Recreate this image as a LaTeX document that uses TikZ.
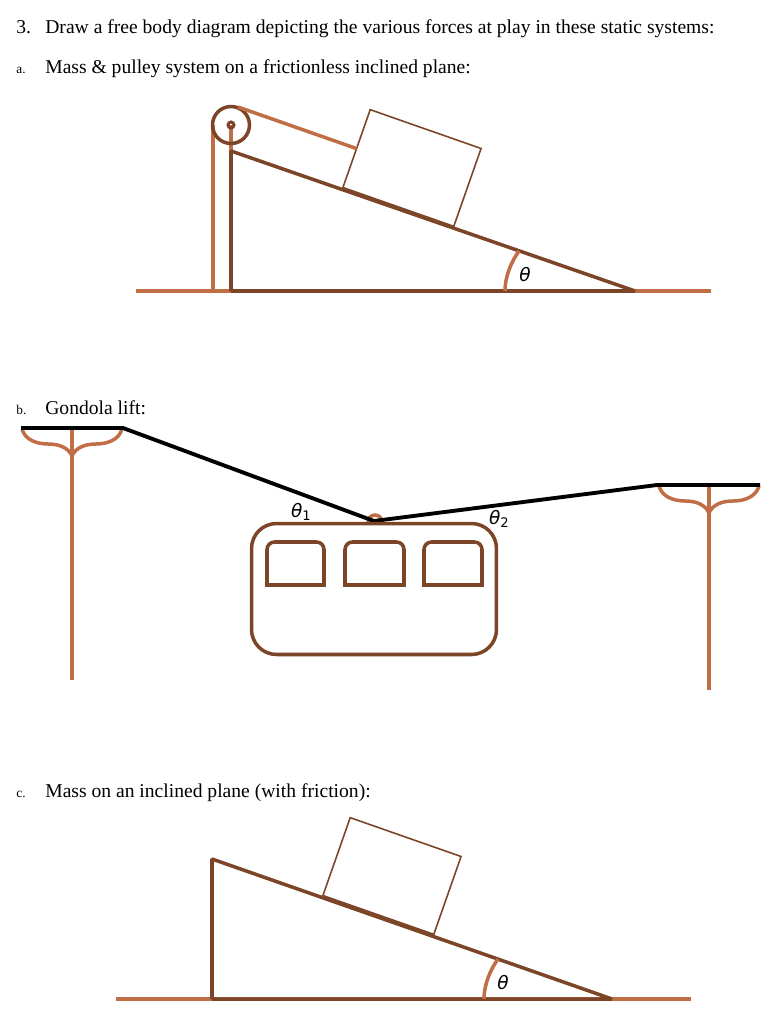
\documentclass[tikz,border=0pt]{standalone}
\usepackage{fontspec}
\setmainfont{Liberation Serif}
\newfontfamily\anglefont{DejaVu Sans}
\usetikzlibrary{positioning}
\definecolor{lightbrown}{HTML}{BF6E45}
\definecolor{darkbrown}{HTML}{7C4528}
\newcommand{\anglesym}{{\anglefont\itshape θ}}

\begin{document}
\begin{tikzpicture}[x=0.02cm, y=-0.02cm,
  heading/.style={anchor=base west, inner sep=0pt, font=\fontsize{11.15pt}{13pt}\selectfont},
  itemmark/.style={anchor=base west, inner sep=0pt, font=\fontsize{7.6pt}{9pt}\selectfont},
  anglelabel/.style={inner sep=0pt, font=\fontsize{10.5pt}{12pt}\selectfont},
  light/.style={draw=lightbrown, line width=2pt},
  dark/.style={draw=darkbrown, line width=2pt, line join=bevel},
  cable/.style={draw=black, line width=2.2pt, line join=round},
  block/.style={rectangle, draw=darkbrown, line width=0.9pt, minimum width=2.35cm, minimum height=1.65cm, rotate=-19.3, inner sep=0pt, outer sep=0pt}]
\useasboundingbox (0,0) rectangle (773,1024);

% Text
\node[heading] (qnum) at (16,34) {3.};
\node[heading] (qtext) at (45,34) {Draw a free body diagram depicting the various forces at play in these static systems:};
\node[itemmark] (marka) at (16,74) {a.};
\node[heading] (texta) at (45,74) {Mass \& pulley system on a frictionless inclined plane:};
\node[itemmark] (markb) at (16,414) {b.};
\node[heading] (textb) at (45,414) {Gondola lift:};
\node[itemmark] (markc) at (16,797) {c.};
\node[heading] (textc) at (45,797) {Mass on an inclined plane (with friction):};

% Part a
\coordinate (groundaL) at (136,291);
\coordinate (groundaR) at (711,291);
\coordinate (posta) at (213,291);
\coordinate (postatop) at (213,125);
\coordinate (basea) at (231,291);
\coordinate (topa) at (231,151);
\coordinate (apexa) at (635,291);
\coordinate (arcastart) at (505,291);
\coordinate (arcaend) at (519,251);
\coordinate (tangenta) at (238,107);
\draw[light] (groundaL) -- (groundaR);
\draw[light] (posta) -- (postatop);
\draw[light] (topa) -- (231,125);
\draw[dark] (basea) -- (apexa) -- (topa) -- (basea);
\node[circle, draw=darkbrown, line width=2pt, minimum size=0.74cm, inner sep=0pt] (pulley) at (231,125) {};
\node[circle, draw=darkbrown, line width=1.7pt, minimum size=0.12cm, inner sep=0pt] (hub) at (231,125) {};
\node[block] (blocka) at (412,168) {};
\draw[light] (tangenta) -- (blocka.west);
\draw[light] (arcastart) .. controls (505,277) and (511,262) .. (arcaend);
\node[anglelabel] (thetaa) at (525,275) {\anglesym};

% Part b
\coordinate (leftL) at (21,428);
\coordinate (leftR) at (123,428);
\coordinate (hook) at (374,521);
\coordinate (rightL) at (657,485);
\coordinate (rightR) at (760,485);
\coordinate (leftfoot) at (72,680);
\coordinate (lefttop) at (72,428);
\coordinate (leftfork) at (72,456);
\coordinate (rightfoot) at (709,690);
\coordinate (righttop) at (709,485);
\coordinate (rightfork) at (709,513);
\draw[light] (lefttop) -- (leftfoot);
\draw[light] (righttop) -- (rightfoot);
\draw[light] (22,429) .. controls (25,440) and (37,444) .. (48,444) .. controls (58,444) and (68,447) .. (leftfork);
\draw[light] (122,429) .. controls (119,440) and (107,444) .. (96,444) .. controls (86,444) and (76,447) .. (leftfork);
\draw[light] (659,486) .. controls (662,497) and (674,501) .. (685,501) .. controls (695,501) and (705,504) .. (rightfork);
\draw[light] (759,486) .. controls (756,497) and (744,501) .. (733,501) .. controls (723,501) and (713,504) .. (rightfork);
\draw[light] (368,522) arc[start angle=180, end angle=360, radius=7];
\draw[cable] (leftL) -- (leftR) -- (hook) -- (rightL) -- (rightR);
\node[rectangle, rounded corners=0.5cm, draw=darkbrown, line width=2pt, minimum width=4.9cm, minimum height=2.62cm, inner sep=0pt] (cabin) at (374,589) {};
\foreach \xa/\xb in {267/324, 345/404, 424/482}
  \draw[dark, line join=miter] (\xa,585) [rounded corners=0.15cm] -- (\xa,542) -- (\xb,542) [sharp corners] -- (\xb,585) -- cycle;
\node[anglelabel] (thetab) at (301,512) {\anglesym\raisebox{-0.35ex}{\fontsize{7.5pt}{8pt}\anglefont 1}};
\node[anglelabel] (thetac) at (499,519) {\anglesym\raisebox{-0.35ex}{\fontsize{7.5pt}{8pt}\anglefont 2}};

% Part c
\coordinate (groundcL) at (116,999);
\coordinate (groundcR) at (691,999);
\coordinate (basec) at (212,999);
\coordinate (topc) at (212,859);
\coordinate (apexc) at (612,999);
\coordinate (arccstart) at (484,999);
\coordinate (arccend) at (498,959);
\draw[light] (groundcL) -- (groundcR);
\draw[dark] (basec) -- (apexc) -- (topc) -- (basec);
\node[block] (blockc) at (392,876) {};
\draw[light] (arccstart) .. controls (484,985) and (490,970) .. (arccend);
\node[anglelabel] (thetad) at (503,983) {\anglesym};
\end{tikzpicture}
\end{document}
